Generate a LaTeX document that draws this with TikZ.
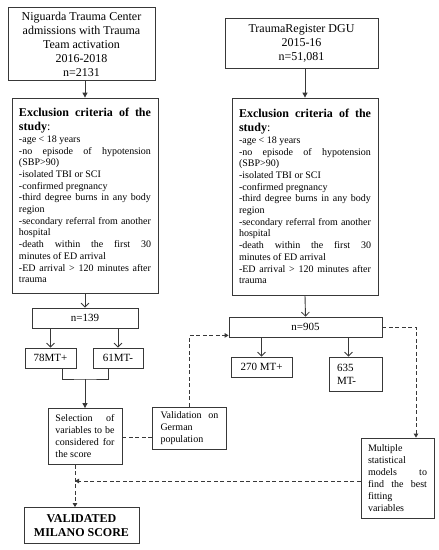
\documentclass[tikz,border=0pt]{standalone}
\usepackage{fontspec}
\setmainfont{Liberation Serif}
\usetikzlibrary{arrows.meta,calc}
\begin{document}
\begin{tikzpicture}[x=1pt,y=-1pt,
  box/.style={draw=black!78, line width=0.8pt, inner sep=0pt, align=center},
  conn/.style={draw=black!78, line width=0.9pt},
  barb/.style={conn, -{Straight Barb[length=4pt,width=8pt,line width=0.8pt]}},
  tri/.style={conn, -{Triangle[length=5pt,width=5pt]}},
  dashln/.style={draw=black!78, line width=0.8pt, dash pattern=on 4pt off 2.5pt},
  dasharr/.style={dashln, -{Triangle[length=4pt,width=4.5pt]}},
  big/.style={font=\fontsize{12}{14}\selectfont},
  mid/.style={font=\fontsize{11}{13}\selectfont},
  small/.style={font=\fontsize{10}{12}\selectfont}
]
\useasboundingbox (0,0) rectangle (439,550);

% top boxes
\node[box, big, minimum width=147pt, minimum height=73pt] (nig) at (81.5,44)
  {Niguarda Trauma Center\\admissions with Trauma\\Team activation\\2016-2018\\n=2131};
\node[box, big, minimum width=153pt, minimum height=50pt] (dgu) at (301.5,43)
  {TraumaRegister DGU\\2015-16\\n=51,081};

% exclusion boxes
\newcommand{\exclusiontext}{%
  {\fontsize{12}{14}\selectfont\bfseries Exclusion criteria of the study\mdseries:\par}%
  \fontsize{10}{11.7}\selectfont
  -age < 18 years\par
  -no episode of hypotension\linebreak (SBP>90)\par
  -isolated TBI or SCI\par
  -confirmed pregnancy\par
  -third degree burns in any body\linebreak region\par
  -secondary referral from another\linebreak hospital\par
  -death within the first 30\linebreak minutes of ED arrival\par
  -ED arrival > 120 minutes after\linebreak trauma\par}
\node[box, text width=132pt, align=justify, inner xsep=7pt, minimum height=195pt] (exL) at (85,195.5)
  {\hyphenpenalty=10000\exclusiontext};
\node[box, text width=132pt, align=justify, inner xsep=7pt, minimum height=197pt] (exR) at (305,196.5)
  {\hyphenpenalty=10000\exclusiontext};

% left branch
\node[box, mid, minimum width=106pt, minimum height=20pt] (n139) at (85,318) {n=139};
\node[box, mid, minimum width=51pt, minimum height=20pt] (mtp) at (50.5,358) {78MT+};
\node[box, mid, minimum width=50pt, minimum height=20pt] (mtm) at (118,358) {61MT-};
\node[box, small, text width=59pt, align=justify, inner xsep=7.5pt, minimum height=56pt] (sel) at (85,436.5)
  {Selection of\linebreak variables to be\linebreak considered for\linebreak the score};
\node[box, small, text width=58pt, align=justify, inner xsep=8pt, minimum height=42pt] (val) at (189.5,428)
  {Validation on\linebreak German\\population};
\node[box, font=\fontsize{12}{14}\selectfont\bfseries, minimum width=115pt, minimum height=36pt] (vms) at (81.5,525.5)
  {VALIDATED\\MILANO SCORE};

% right branch
\node[box, mid, minimum width=153pt, minimum height=20pt] (n905) at (305.5,327) {n=905};
\node[box, mid, minimum width=61pt, minimum height=20pt] (m270) at (261.5,367) {270 MT+};
\node[box, mid, text width=37pt, align=left, inner xsep=8pt, minimum height=34pt] (m635) at (355.5,374)
  {635\\MT-};
\node[box, small, text width=59pt, align=justify, inner xsep=7pt, minimum height=80pt] (mult) at (397.5,478)
  {Multiple\\statistical\\models to\linebreak find the best\linebreak fitting\\variables};

% coordinates
\coordinate (jn) at (85,379);
\coordinate (dtop) at ($(sel.south)+(-10,0)$);
\coordinate (mj) at ($(dtop |- mult.west)+(0,3)$);

% solid connectors
\draw[tri] (nig.south -| exL.north) -- (exL.north);
\draw[tri] (dgu.south -| exR.north) -- (exR.north);
\draw[barb] (exL.south) -- (n139.north);
\draw[barb] (exR.south) -- (n905.north);
\draw[barb] (n139.south -| mtp.north) -- (mtp.north);
\draw[barb] (n139.south -| mtm.north) -- (mtm.north);
\draw[barb] (n905.south -| m270.north) -- (m270.north);
\draw[barb] ($(n905.south -| m635.north)+(-7,0)$) -- ($(m635.north)+(-7,0)$);
\draw[conn] ($(mtp.south)+(11.5,0)$) |- (jn) -| ($(mtm.south)+(-10,0)$);
\draw[tri] (jn) -- (sel.north);

% dashed connectors
\draw[dashln] ($(sel.east)+(0,0.5)$) -- ($(sel.east -| val.west)+(0,0.5)$);
\draw[dasharr] (val.north) |- ($(n905.south west)+(0,-2)$);
\draw[dasharr] (n905.east) -| ($(mult.north)+(18.5,0)$);
\draw[dasharr] ($(mult.west)+(0,3)$) -- (mj);
\draw[dasharr] (dtop) -- (dtop |- vms.north);
\end{tikzpicture}
\end{document}
